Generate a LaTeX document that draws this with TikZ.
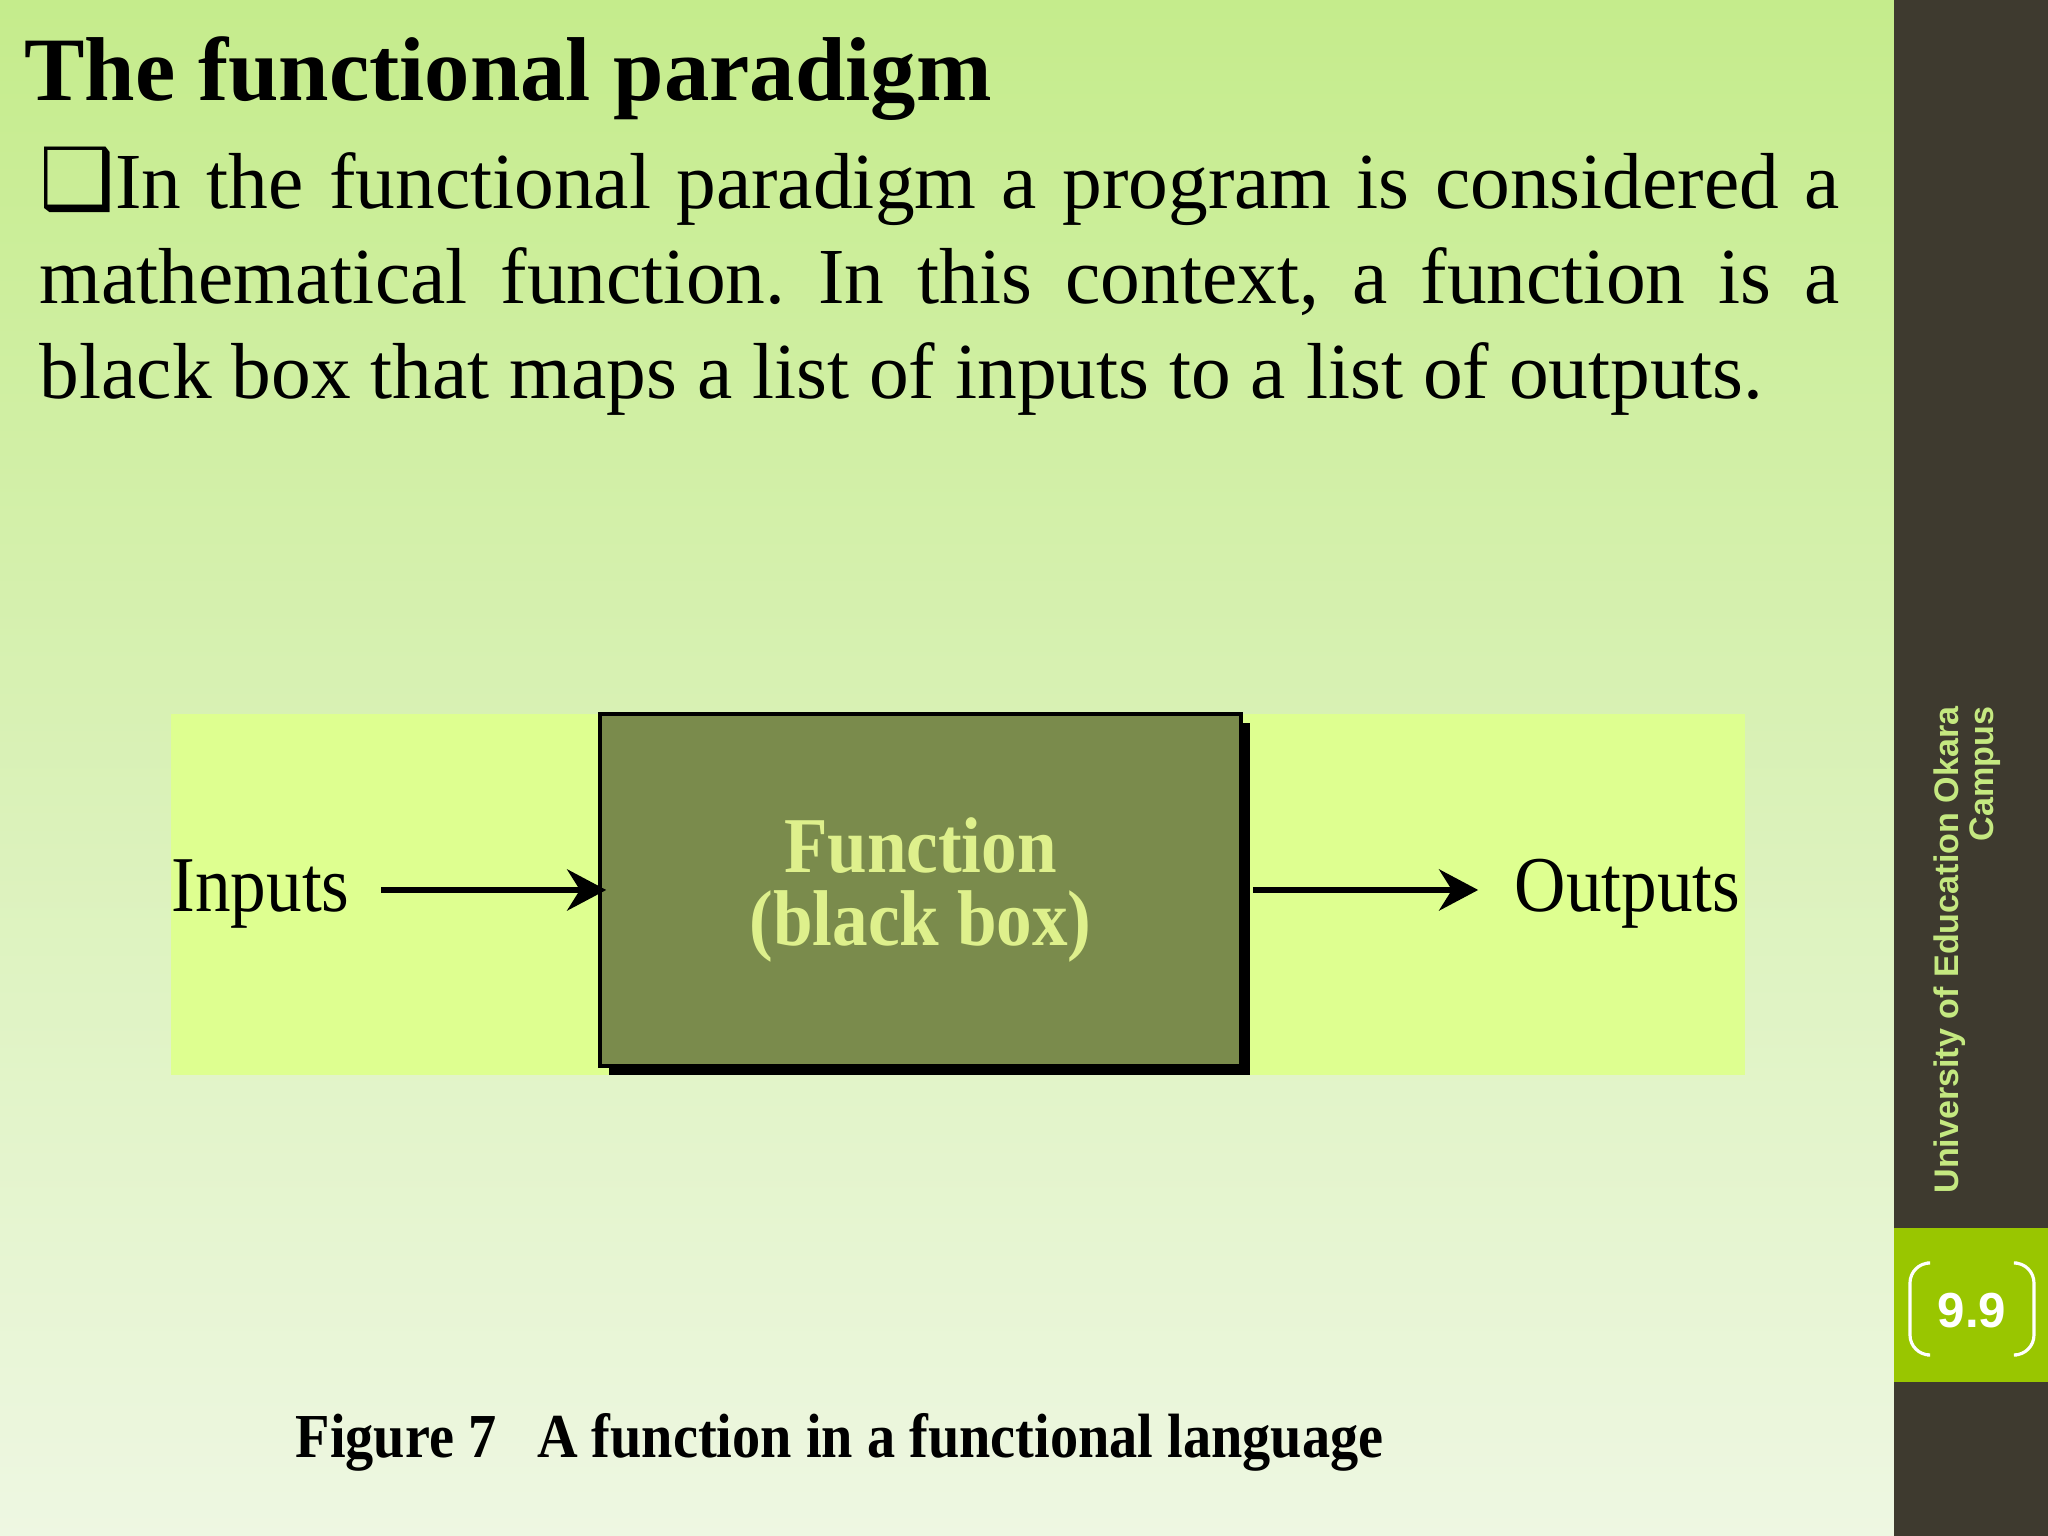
\documentclass[tikz,border=0pt]{standalone}
\usepackage{fontspec}
\setmainfont{Liberation Serif}
\newfontfamily\figfont[FakeStretch=0.9]{Liberation Serif}
\newfontfamily\sidefont{Liberation Sans}
\newfontfamily\symfont{DejaVu Sans}
\usepackage{tikz}
\usetikzlibrary{arrows.meta, shadows}
\usepackage{xcolor}
\definecolor{bgtop}{RGB}{197,236,140}
\definecolor{bgmid}{RGB}{220,241,190}
\definecolor{bgbot}{RGB}{238,247,226}
\definecolor{panel}{RGB}{222,255,144}
\definecolor{boxfill}{RGB}{122,139,76}
\definecolor{boxtext}{RGB}{222,240,140}
\definecolor{sidebar}{RGB}{62,58,47}
\definecolor{tabgreen}{RGB}{153,198,0}
\definecolor{sidetext}{RGB}{196,232,128}

\begin{document}
\begin{tikzpicture}[
  >={Stealth[length=3.9mm, width=4.1mm]},
  flow/.style={->, line width=1.9pt},
  figtext/.style={inner sep=0, font=\figfont\fontsize{22.5}{24}\selectfont},
  blackbox/.style={draw=black, line width=1pt, fill=boxfill,
    minimum width=6.41cm, minimum height=3.52cm, align=center,
    text=boxtext, font=\figfont\bfseries\fontsize{22.5}{20.8}\selectfont,
    drop shadow={shadow xshift=0.09cm, shadow yshift=-0.09cm, opacity=1, fill=black}},
  sidelabel/.style={rotate=90, anchor=base east, inner sep=0, text=sidetext,
    font=\sidefont\bfseries\fontsize{9.7}{10}\selectfont},
  ]
  \def\W{20.48}
  \def\H{15.36}
  \def\Sx{18.94}
  \useasboundingbox (0,0) rectangle (\W,\H);

  % Slide background
  \shade[top color=bgtop, middle color=bgmid, bottom color=bgbot] (0,0) rectangle (\Sx,\H);

  % Side bar with page tab
  \fill[sidebar] (\Sx,0) rectangle (\W,\H);
  \fill[tabgreen] (\Sx,1.54) rectangle (\W,3.08);
  \node[font=\sidefont\bfseries\fontsize{14}{14}\selectfont, text=white] (page) at (19.72,2.25) {9.9};
  \draw[white, line width=0.9pt, rounded corners=0.2cm] (19.27,2.73) -- (19.10,2.73) -- (19.10,1.81) -- (19.27,1.81);
  \draw[white, line width=0.9pt, rounded corners=0.2cm] (20.17,2.73) -- (20.34,2.73) -- (20.34,1.81) -- (20.17,1.81);
  \node[sidelabel] (campus1) at (19.58,8.30) {University of Education Okara};
  \node[sidelabel] (campus2) at (19.93,8.30) {Campus};

  % Title and text
  \node[anchor=base west, inner sep=0, font=\bfseries\fontsize{25.8}{32}\selectfont] (title) at (0.235,14.35) {The functional paradigm};
  \node[anchor=base west, inner sep=0, text width=18cm, align=justify, font=\fontsize{22.6}{27}\selectfont\frenchspacing] (body) at (0.39,13.27)
    {{\symfont\fontsize{24}{24}\selectfont ❑}In the functional paradigm a program is considered a\linebreak
     mathematical function. In this context, a function is a\linebreak
     black box that maps a list of inputs to a list of outputs.};

  % Figure panel
  \fill[panel] (1.71,4.61) rectangle (17.45,8.22);
  \node[blackbox] (box) at (9.205,6.46) {Function\\(black box)};
  \node[figtext, anchor=base west] (inputs) at (1.71,6.24) {Inputs};
  \node[figtext, anchor=base east] (outputs) at (17.41,6.24) {Outputs};
  \draw[flow, shorten <=0.31cm, shorten >=-0.08cm] (inputs.east |- box.west) -- (box.west);
  \draw[flow, shorten <=0.1cm, shorten >=0.36cm] (box.east) -- (outputs.west |- box.east);

  % Caption
  \node[anchor=base west, inner sep=0, font=\figfont\bfseries\fontsize{17.8}{20}\selectfont] (caption) at (2.95,0.78)
    {Figure 7\hspace{0.65em}A function in a functional language};
\end{tikzpicture}
\end{document}
